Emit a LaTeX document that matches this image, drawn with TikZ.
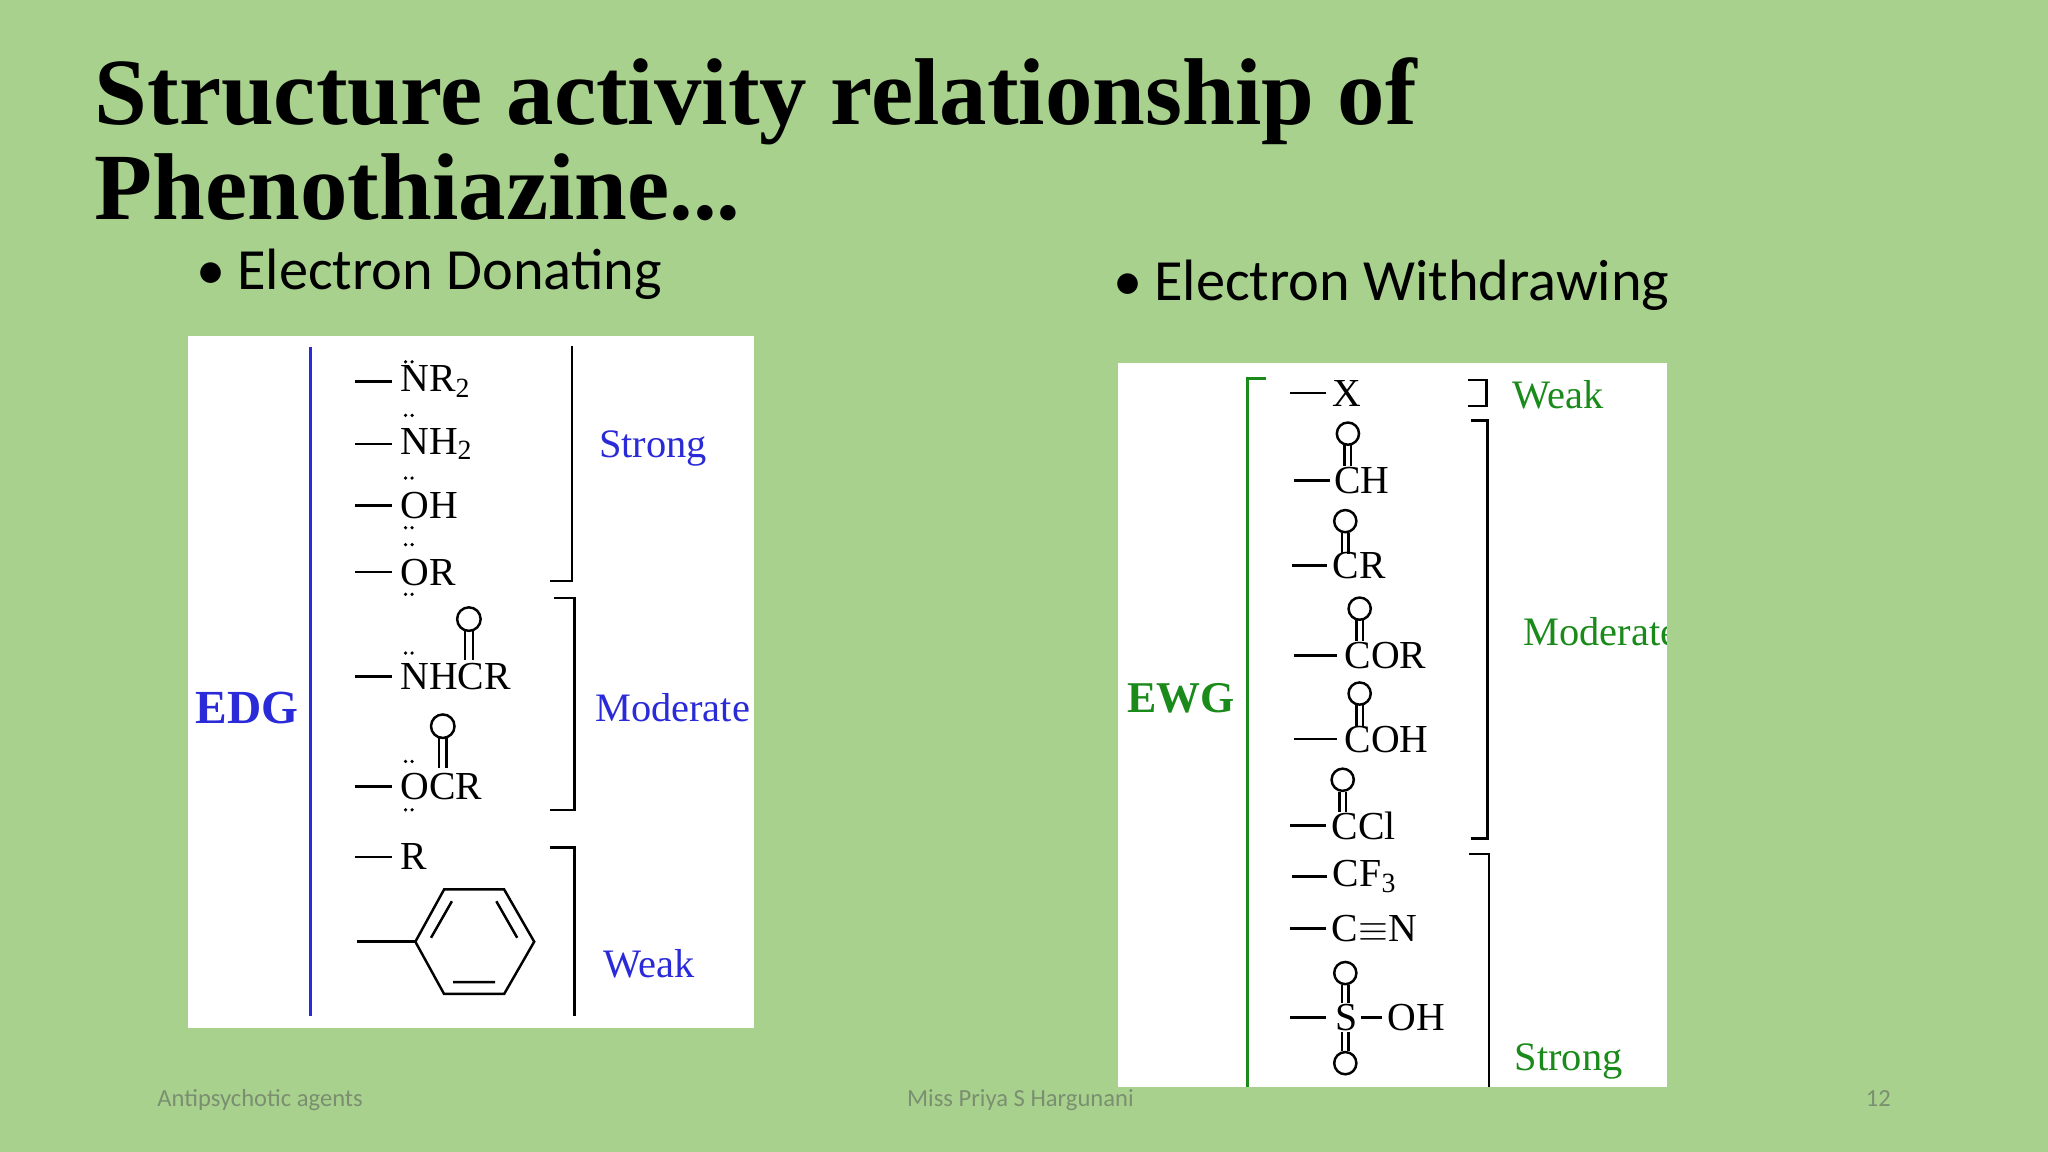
\documentclass[tikz,border=0pt]{standalone}
\usepackage{fontspec}
\setmainfont{Liberation Serif}
\newfontfamily\carlitofont{Carlito}
\definecolor{bg}{HTML}{A9D18E}
\definecolor{edgb}{HTML}{2A2AD8}
\definecolor{ewgg}{HTML}{1A8A1A}
\definecolor{foot}{HTML}{7A8F70}
\begin{document}
\begin{tikzpicture}[x=0.013061cm,y=-0.013061cm,
  chem/.style={inner sep=0,anchor=west,font=\fontsize{11.3}{13}\selectfont},
  lab/.style={inner sep=0,font=\fontsize{11.5}{13}\selectfont},
  bond/.style={line width=0.7pt}]
\fill[bg] (0,0) rectangle (1568,882);
\useasboundingbox (0,0) rectangle (1568,882);
\node[anchor=base west,inner sep=0,font=\fontsize{27}{28}\selectfont\bfseries] (t1) at (72,95) {Structure activity relationship of};
\node[anchor=base west,inner sep=0,font=\fontsize{27}{28}\selectfont\bfseries] (t2) at (72,168) {Phenothiazine...};
\node[anchor=base west,inner sep=0,font=\carlitofont\fontsize{16.6}{20}\selectfont] (b1) at (150,222) {•\hspace{0.2em}Electron Donating};
\node[anchor=base west,inner sep=0,font=\carlitofont\fontsize{16.6}{20}\selectfont] (b2) at (852,230) {•\hspace{0.2em}Electron Withdrawing};
\node[anchor=base west,inner sep=0,text=foot,font=\carlitofont\fontsize{7}{8}\selectfont] (f1) at (120,847) {Antipsychotic agents};
\node[anchor=base west,inner sep=0,text=foot,font=\carlitofont\fontsize{7}{8}\selectfont] (f2) at (694,847) {Miss Priya S Hargunani};
\node[anchor=base west,inner sep=0,text=foot,font=\carlitofont\fontsize{7}{8}\selectfont] (f3) at (1428,847) {12};
% ---------- left panel
\fill[white] (144,257) rectangle (577,787);
\draw[edgb,line width=0.8pt] (238,266) -- (238,778);
\node[lab,text=edgb,font=\fontsize{13.5}{16}\selectfont\bfseries] (edg) at (189,542) {EDG};
\foreach \yy in {292,340,387,438,518,602,656} \draw[bond] (272,\yy) -- (300,\yy);
\node[chem] (r1) at (306,292) {NR\textsubscript{2}};
\node[chem] (r2) at (306,340) {NH\textsubscript{2}};
\node[chem] (r3) at (306,387) {OH};
\node[chem] (r4) at (306,438) {OR};
\node[chem] (r5) at (306,518) {NHCR};
\node[chem] (r6) at (306,602) {OCR};
\node[chem] (r7) at (306,656) {R};
% lone pairs
\foreach \px/\py in {313/277,313/318,313/366,313/404,313/417,313/455,313/500,313/583,313/620}
 {\fill (\px-2.5,\py) circle (1.4); \fill (\px+2.5,\py) circle (1.4);}
% carbonyls
\draw[bond] (359,474) circle (9);
\draw[bond] (356,483) -- (356,505) (362,483) -- (362,505);
\draw[bond] (339,556) circle (9);
\draw[bond] (336,565) -- (336,588) (342,565) -- (342,588);
% benzene
\draw[bond] (273,721) -- (318,721);
\draw[bond] (318,721) -- (340,681) -- (386,681) -- (409,721) -- (386,761) -- (340,761) -- cycle;
\draw[bond] (330,718) -- (346,690) (380,690) -- (396,718) (347,752) -- (379,752);
% brackets
\draw[bond] (438,265) -- (438,445) -- (421,445);
\draw[bond] (424,458) -- (440,458) -- (440,620) -- (421,620);
\draw[bond] (421,649) -- (440,649) -- (440,778);
\node[lab,text=edgb] (s1) at (500,343) {Strong};
\node[lab,text=edgb] (m1) at (515,542) {Moderate};
\node[lab,text=edgb] (w1) at (497,738) {Weak};
% ---------- right panel
\fill[white] (856,278) rectangle (1276,832);
\draw[ewgg,line width=0.8pt] (969,290) -- (955,290) -- (955,832);
\node[lab,text=ewgg,font=\fontsize{12.5}{15}\selectfont\bfseries] (ewg) at (904,535) {EWG};
\draw[bond] (988,301) -- (1015,301); \node[chem] (x1) at (1020,301) {X};
\draw[bond] (991,368) -- (1018,368); \node[chem] (x2) at (1021,368) {CH};
\draw[bond] (989,433) -- (1016,433); \node[chem] (x3) at (1020,433) {CR};
\draw[bond] (991,502) -- (1024,502); \node[chem] (x4) at (1029,502) {COR};
\draw[bond] (991,566) -- (1024,566); \node[chem] (x5) at (1029,566) {COH};
\draw[bond] (988,632) -- (1015,632); \node[chem] (x6) at (1019,632) {CCl};
\draw[bond] (989,671) -- (1016,671); \node[chem] (x7) at (1020,671) {CF\textsubscript{3}};
\draw[bond] (988,711) -- (1015,711); \node[chem] (x8) at (1019,711) {C$\equiv$N};
\draw[bond] (988,779) -- (1015,779); \node[chem] (x9) at (1022,779) {S};
\draw[bond] (1042,779) -- (1058,779); \node[chem] (x10) at (1062,779) {OH};
\foreach \cx/\cy in {1032/332,1030/399,1041/466,1041/531,1028/597}
 {\draw[bond] (\cx,\cy) circle (8.5);
  \draw[bond] (\cx-2.5,\cy+9) -- (\cx-2.5,\cy+25) (\cx+2.5,\cy+9) -- (\cx+2.5,\cy+25);}
\draw[bond] (1030,745) circle (8.5); \draw[bond] (1030,814) circle (8.5);
\draw[bond] (1027.5,754) -- (1027.5,768) (1032.5,754) -- (1032.5,768);
\draw[bond] (1027.5,790) -- (1027.5,805) (1032.5,790) -- (1032.5,805);
\draw[bond] (1124,291) -- (1138,291) -- (1138,311) -- (1124,311);
\draw[bond] (1126,322) -- (1139,322) -- (1139,642) -- (1126,642);
\draw[bond] (1125,654) -- (1140,654) -- (1140,832);
\node[lab,text=ewgg] (w2) at (1193,302) {Weak};
\begin{scope}
\clip (856,278) rectangle (1276,832);
\node[lab,text=ewgg,anchor=west] (m2) at (1166,484) {Moderate};
\end{scope}
\node[lab,text=ewgg] (s2) at (1201,813) {Strong};
\end{tikzpicture}
\end{document}
